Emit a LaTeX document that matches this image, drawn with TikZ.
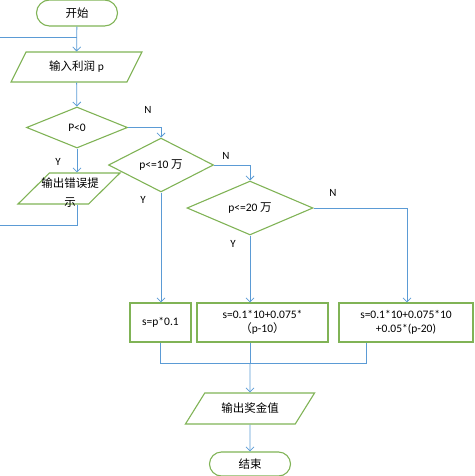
\documentclass[tikz,border=0pt]{standalone}
\usepackage{fontspec}
\setmainfont{Carlito}
\newfontfamily\cjk{Noto Sans CJK SC}
\usetikzlibrary{shapes.geometric,shapes.misc,arrows.meta}
\definecolor{boxgreen}{RGB}{128,179,86}
\definecolor{lineblue}{RGB}{91,155,213}

\begin{document}
\begin{tikzpicture}[x=1pt,y=-1pt,
    font=\fontsize{11.5}{14}\selectfont,
    terminal/.style={draw=boxgreen, line width=1.1pt, rounded rectangle, minimum width=81pt, minimum height=26pt, inner sep=0pt},
    io/.style={draw=boxgreen, line width=1.1pt, trapezium, trapezium stretches=true, inner sep=0pt},
    decision/.style={draw=boxgreen, line width=1.1pt, diamond, inner sep=0pt},
    process/.style={draw=boxgreen, line width=1.1pt, rectangle, minimum height=39pt, inner sep=0pt, align=center},
    flow/.style={draw=lineblue, line width=0.8pt, -{Straight Barb[length=4pt,width=8pt]}},
    link/.style={draw=lineblue, line width=0.8pt},
    yn/.style={font=\fontsize{11}{13}\selectfont}]
    \useasboundingbox (0,0) rectangle (474,476);
    \clip (0,0) rectangle (474,476);

    \node[terminal] (start) at (77,13) {\cjk 开始};
    \node[io, trapezium left angle=55, trapezium right angle=125, minimum width=131pt, minimum height=30pt] (input) at (76.5,67) {{\cjk 输入利润} p};
    \node[decision, minimum width=101pt, minimum height=41pt] (neg) at (77,127.5) {P<0};
    \node[io, trapezium left angle=57, trapezium right angle=123, minimum width=102pt, minimum height=31pt] (err) at (69,188.5) {\phantom{X}};
    \node[align=center, font=\fontsize{11.5}{19}\selectfont] (errtext) at (70,192.5) {\cjk 输出错误提\\\cjk 示};
    \node[decision, minimum width=105pt, minimum height=40pt] (lt10) at (161,165) {p<=10 {\cjk 万}};
    \node[decision, minimum width=126pt, minimum height=40pt] (lt20) at (250,208) {p<=20 {\cjk 万}};

    \node[process, minimum width=61pt] (s1) at (160.5,322.5) {s=p*0.1};
    \node[process, minimum width=131pt] (s2) at (262.5,322.5) {s=0.1*10+0.075*\\{\cjk （}p-10{\cjk ）}};
    \node[process, minimum width=134pt] (s3) at (406,322.5) {s=0.1*10+0.075*10\\+0.05*(p-20)};

    \node[io, trapezium left angle=41, trapezium right angle=139, minimum width=130pt, minimum height=31pt] (out) at (250,408.5) {\cjk 输出奖金值};
    \node[terminal, minimum height=24pt] (end) at (250,464) {\cjk 结束};

    \coordinate (loopin) at (-10,37);
    \coordinate (loopout) at (-10,225);
    \coordinate (merge) at (250,363);

    \draw[flow] (start) -- (input);
    \draw[link] (err.south -| neg) |- (loopout) -- (loopin) -- (loopin -| start);
    \draw[flow] (input) -- (neg);
    \draw[flow] (neg) -- (err.north -| neg);
    \draw[flow] (neg.east) -| (lt10.north);
    \draw[flow] (lt10.east) -| (lt20.north);
    \draw[flow] (lt20.east) -| ([xshift=1pt]s3.north);
    \draw[flow] (lt10.south) -- (lt10.south |- s1.north);
    \draw[flow] (lt20.south) -- (lt20.south |- s2.north);

    \draw[link] (s1.south) |- (merge);
    \draw[link] ([xshift=28pt]s3.south west) |- (merge);
    \draw[link] (s2.south -| merge) -- (merge);
    \draw[flow] (merge) -- (out);
    \draw[flow] (out) -- (end);

    \node[yn] (n1) at (148,110) {N};
    \node[yn] (y1) at (58,162) {Y};
    \node[yn] (n2) at (226,156) {N};
    \node[yn] (y2) at (143,200) {Y};
    \node[yn] (n3) at (333,193) {N};
    \node[yn] (y3) at (233,244) {Y};
\end{tikzpicture}
\end{document}
